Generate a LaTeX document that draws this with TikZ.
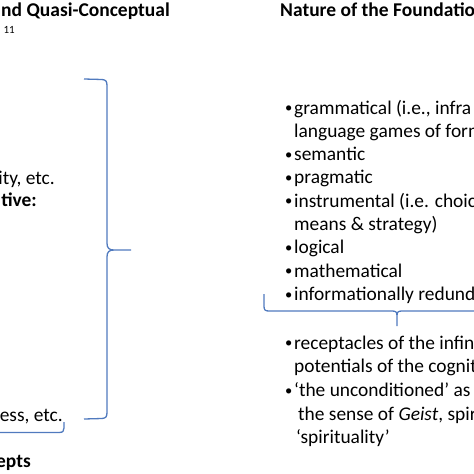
\documentclass[tikz,border=0pt]{standalone}
\usepackage{fontspec}
\setmainfont{Carlito}
\definecolor{bracecol}{RGB}{80,122,190}
\newcommand\bul{\makebox[9pt][l]{\raisebox{1.3pt}{\scalebox{0.75}{\textbullet}}}}
\begin{document}
\begin{tikzpicture}[
    x=1pt, y=-1pt,
    txt/.style={inner sep=0pt, font=\fontsize{19.4}{23}\selectfont},
    bold/.style={inner sep=0pt, font=\fontsize{19.4}{23}\selectfont\bfseries},
    head/.style={inner sep=0pt, font=\fontsize{19.5}{23}\selectfont\bfseries},
    brace/.style={draw=bracecol, line width=1.3pt, line join=round}
]
\useasboundingbox (0,0) rectangle (474,474);
\clip (0,0) rectangle (474,474);

% Headings
\node[head, anchor=base east] (leftHead) at (170,16.5) {nd Quasi-Conceptual};
\node[inner sep=0pt, font=\fontsize{11}{13}\selectfont, anchor=base east] (pageNo) at (15,33) {11};
\node[head, anchor=base west] (rightHead) at (280,16.5) {Nature of the Foundation};

% Left column (cut at the border)
\node[txt, anchor=base east] (etcA) at (55,184) {ity, etc.};
\node[bold, anchor=base east] (tive) at (37,206) {tive:};
\node[txt, anchor=base east] (etcB) at (63,421) {ess, etc.};
\node[bold, anchor=base east] (epts) at (31,467) {epts};

% Right column - upper list
\node[txt, anchor=base west] (gram) at (285,114) {\bul grammatical (i.e., infra};
\node[txt, anchor=base west] (lang) at (294,137.3) {language games of form};
\node[txt, anchor=base west] (sem) at (285,160.6) {\bul semantic};
\node[txt, anchor=base west] (prag) at (285,183.9) {\bul pragmatic};
\node[txt, anchor=base west] (instr) at (285,207.2) {\bul instrumental (i.e. choic};
\node[txt, anchor=base west] (means) at (294,230.5) {means \& strategy)};
\node[txt, anchor=base west] (logic) at (285,253.8) {\bul logical};
\node[txt, anchor=base west] (math) at (285,277.1) {\bul mathematical};
\node[txt, anchor=base west] (info) at (285,300.4) {\bul informationally redund};

% Right column - lower list
\node[txt, anchor=base west] (recep) at (285,349) {\bul receptacles of the infin};
\node[txt, anchor=base west] (poten) at (294,372.7) {potentials of the cognit};
\node[txt, anchor=base west] (uncond) at (285,396.4) {\bul `the unconditioned' as};
\node[txt, anchor=base west] (geist) at (298,420) {the sense of \textit{Geist}, spir};
\node[txt, anchor=base west] (spirit) at (296,443.8) {`spirituality'};

% Big brace round the left concepts
\draw[brace] (84,79) -- (102,79.5) .. controls (106,80) and (107,81) .. (107,86)
  -- (107,243) .. controls (107,248) and (109,250) .. (114,250) -- (131,250)
  (114,250) .. controls (109,250) and (107,252) .. (107,257)
  -- (107,412) .. controls (107,417) and (106,418) .. (102,418.5) -- (84,419);

% Small brace under the left list
\draw[brace] (-5,432.5) -- (59,432.5) .. controls (63,432.5) and (64,431) .. (64,428) -- (64,422);

% Brace under the upper right list
\draw[brace] (264,294) -- (264,306) .. controls (264,310) and (265,311) .. (269,311) -- (392,311)
  .. controls (396,311) and (397,312) .. (397,316) -- (397,326)
  (397,316) .. controls (397,312) and (398,311) .. (402,311) -- (480,311);

\end{tikzpicture}
\end{document}
